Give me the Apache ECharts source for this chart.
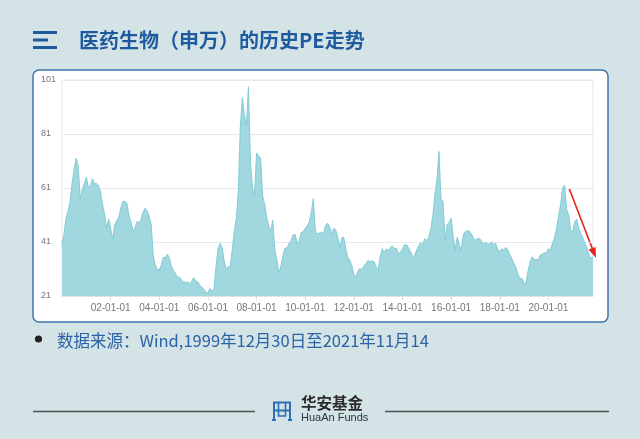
<!DOCTYPE html>
<html>
<head>
<meta charset="utf-8">
<style>
html,body{margin:0;padding:0;background:#d4e3e6;}
#chart{width:640px;height:439px;}
</style>
<script src="https://cdn.jsdelivr.net/npm/echarts@6/dist/echarts.min.js"></script>
</head>
<body>
<div id="chart"></div>
<script>
// PE values, one per month (first point 1999-12-30, last 2021-11-14)
var pe2000_2001 = [40, 44, 49.8, 52.5, 56, 63, 68, 72, 69, 57, 60.5, 62.5,
                   65, 61.5, 61.5, 64.5, 62.5, 62.7, 62, 59.6, 54.7, 51.5, 46, 49.5];
var pe2002_2003 = [46, 42, 47.3, 49, 50, 53.5, 56, 56, 55.5, 51, 48.5, 45.3,
                   46, 48.6, 48, 49.4, 52, 53.5, 52.5, 50.5, 47.5, 36, 32.5, 31];
var pe2004_2005 = [30.6, 32.5, 35.3, 35.2, 36.5, 35, 32, 30.3, 29.3, 27.8, 28, 26.8,
                   26.3, 26, 26.2, 25.5, 26.5, 27.8, 26.5, 26.3, 25, 24.3, 23.5, 22.3];
var pe2006_2007 = [22.2, 23.8, 22.8, 23.5, 32, 38.5, 40.5, 39, 34, 31.2, 31.8, 32,
                   38, 45, 49.5, 60, 84, 94.5, 88, 84, 98.5, 70, 61, 58];
var pe2008_2009 = [74, 73, 72, 58, 55, 50, 47, 45, 49, 38, 34.5, 29.5,
                   32, 36, 38.7, 38.7, 40.5, 41.5, 43.6, 43.8, 40.5, 41.5, 44.5, 44.8];
var pe2010_2011 = [46, 47, 48.5, 52, 57, 45, 44, 44.3, 44.8, 44, 47, 48,
                   46.7, 43.8, 46, 45.5, 43, 38.8, 42.4, 42.8, 38.5, 35.3, 34.3, 32.3];
var pe2012_2013 = [29, 28, 30.2, 31.2, 30.8, 32.2, 33, 34.2, 33.7, 34, 33.7, 31.8,
                   30.5, 35.5, 38.5, 37, 38.5, 37.8, 39, 39.5, 38.5, 38.8, 36.5, 37.3];
var pe2014_2015 = [38.5, 40, 40, 38.8, 37.4, 35.5, 36, 38, 39.5, 40.8, 40, 42.3,
                   41.5, 42.8, 46, 51, 58.4, 64, 74.5, 57, 55.9, 41.5, 47.3, 48.3];
var pe2016_2017 = [49.8, 43, 38, 42.8, 40, 38, 43.6, 44.8, 45.2, 45, 44, 42.4,
                   41.8, 42.2, 42.3, 41.3, 40, 41, 40.2, 40.3, 41, 40, 40.5, 38];
var pe2018_2019 = [37.6, 38.5, 38, 39, 38, 36.2, 34.7, 33, 31.5, 29, 27.5, 27.5,
                   25.5, 26, 30.5, 33.7, 35.5, 34.5, 34.5, 34.5, 36.2, 36.5, 37, 37];
var pe2020_2021 = [38.5, 38, 40.5, 42.6, 46, 50.5, 54.7, 61, 62, 53, 51.2, 44.8,
                   45, 48.5, 49.5, 46, 44, 42.5, 40.4, 38.8, 36.2, 35, 35.5];

var firstDate = '99-12-30';
var lastDate = '21-11-14';
var xTickLabels = ['02-01-01','04-01-01','06-01-01','08-01-01','10-01-01',
                   '12-01-01','14-01-01','16-01-01','18-01-01','20-01-01'];
var yTicks = [21, 41, 61, 81, 101];

var values = [].concat(pe2000_2001, pe2002_2003, pe2004_2005, pe2006_2007, pe2008_2009,
  pe2010_2011, pe2012_2013, pe2014_2015, pe2016_2017, pe2018_2019, pe2020_2021);

function pad(n){ return (n < 10 ? '0' : '') + n; }
var categories = values.map(function (v, i) {
  if (i === 0) return firstDate;
  if (i === values.length - 1) return lastDate;
  var y = (2000 + Math.floor(i / 12)) % 100, m = i % 12 + 1;
  return pad(y) + '-' + pad(m) + '-01';
});
function showTick(idx, val) { return xTickLabels.indexOf(val) >= 0; }

var chart = echarts.init(document.getElementById('chart'));
var blue = '#1d5a9e';
chart.setOption({
  backgroundColor: '#d4e3e6',
  animation: false,
  grid: { left: 62, right: 47, top: 80, bottom: 143, show: true, borderColor: '#e6e9ee', borderWidth: 1, backgroundColor: 'transparent' },
  xAxis: {
    type: 'category', data: categories, boundaryGap: false,
    axisLine: { show: true, lineStyle: { color: '#e0e4e8' } },
    axisTick: { show: true, interval: showTick, length: 4, lineStyle: { color: '#d6dbe0' } },
    axisLabel: { interval: showTick, margin: 7, fontSize: 10, color: '#777', fontFamily: '"Liberation Sans", Arial, sans-serif' },
    splitLine: { show: false }
  },
  yAxis: {
    type: 'value', min: yTicks[0], max: yTicks[yTicks.length - 1], interval: 20,
    axisLine: { show: false }, axisTick: { show: false },
    axisLabel: { align: 'left', margin: 21, fontSize: 9, color: '#777', fontFamily: '"Liberation Sans", Arial, sans-serif' },
    splitLine: { show: true, lineStyle: { color: '#e6e9ee', width: 1 } }
  },
  series: [{
    type: 'line', data: values, symbol: 'none', smooth: false,
    lineStyle: { color: '#84cbd4', width: 1 },
    areaStyle: { color: '#a1d7de', opacity: 1 }
  }],
  graphic: [
    { type: 'rect', z: -10, shape: { x: 33, y: 70, width: 575, height: 252, r: 6 },
      style: { fill: '#ffffff', stroke: '#3b76ae', lineWidth: 1.5 } },
    // title icon
    { type: 'rect', shape: { x: 33, y: 31, width: 24, height: 3 }, style: { fill: blue } },
    { type: 'rect', shape: { x: 33, y: 38.5, width: 15, height: 3 }, style: { fill: blue } },
    { type: 'rect', shape: { x: 33, y: 46, width: 24, height: 3 }, style: { fill: blue } },
    { type: 'text', x: 79, y: 40, style: { text: '医药生物（申万）的历史PE走势', fill: blue,
      font: 'bold 20px "Noto Sans CJK SC"', textVerticalAlign: 'middle' } },
    // source note
    { type: 'circle', shape: { cx: 38.5, cy: 339, r: 3.6 }, style: { fill: '#222' } },
    { type: 'text', x: 57, y: 341, style: { text: '数据来源：Wind,1999年12月30日至2021年11月14', fill: '#2a63a6',
      font: '16.5px "Noto Sans CJK SC"', textVerticalAlign: 'middle' } },
    // footer
    { type: 'line', shape: { x1: 33, y1: 411.5, x2: 255, y2: 411.5 }, style: { stroke: '#4a4f52', lineWidth: 1.5 } },
    { type: 'line', shape: { x1: 385, y1: 411.5, x2: 609, y2: 411.5 }, style: { stroke: '#4a4f52', lineWidth: 1.5 } },
    { type: 'polyline', shape: { points: [[274, 420], [274, 402.5], [290, 402.5], [290, 420]] },
      style: { stroke: '#2f6fb5', lineWidth: 2, fill: null } },
    { type: 'line', shape: { x1: 274, y1: 410.5, x2: 290, y2: 410.5 }, style: { stroke: '#2f6fb5', lineWidth: 2 } },
    { type: 'polyline', shape: { points: [[278.5, 402.5], [278.5, 416], [285.5, 416], [285.5, 402.5]] },
      style: { stroke: '#2f6fb5', lineWidth: 1.6, fill: null } },
    { type: 'line', shape: { x1: 272, y1: 420, x2: 276, y2: 420 }, style: { stroke: '#2f6fb5', lineWidth: 2 } },
    { type: 'line', shape: { x1: 288, y1: 420, x2: 292, y2: 420 }, style: { stroke: '#2f6fb5', lineWidth: 2 } },
    { type: 'text', x: 301, y: 403.5, style: { text: '华安基金', fill: '#2b2b2b',
      font: 'bold 15.5px "Noto Sans CJK SC"', textVerticalAlign: 'middle' } },
    { type: 'text', x: 301, y: 417.5, style: { text: 'HuaAn Funds', fill: '#2b3440',
      font: '11px "Liberation Sans", Arial, sans-serif', textVerticalAlign: 'middle' } },
    // red annotation arrow
    { type: 'line', shape: { x1: 569, y1: 188, x2: 592.5, y2: 249 }, style: { stroke: '#e5231b', lineWidth: 1.6 } },
    { type: 'polygon', shape: { points: [[596, 258], [588.5, 249.5], [595.5, 247]] }, style: { fill: '#e5231b' } }
  ]
});
</script>
</body>
</html>
